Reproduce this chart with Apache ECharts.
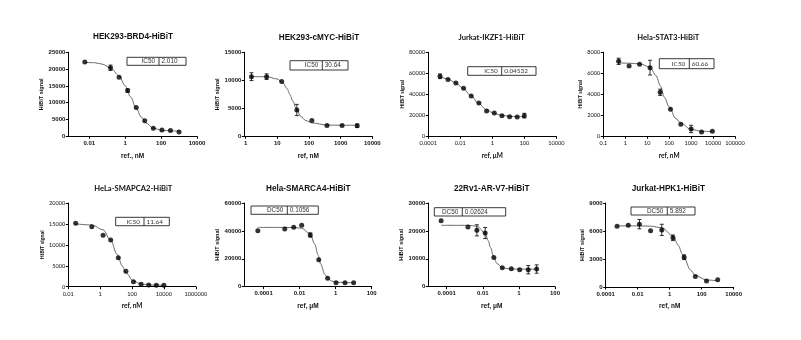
<!DOCTYPE html>
<html><head><meta charset="utf-8">
<script src="https://cdn.jsdelivr.net/npm/echarts@6/dist/echarts.min.js"></script>
<style>html,body{margin:0;padding:0;background:#fff}#c{width:801px;height:340px}</style>
</head><body><div id="c"></div>
<script>
// ---------- DATA ----------
const p1Title = 'HEK293-BRD4-HiBiT', p1XName = 'ref., nM', p1Metric = 'IC50', p1Value = '2.010';
const p1Conc = [0.0056, 0.152, 0.457, 1.37, 4.12, 12.3, 37, 111, 333, 1000];
const p1Signal = [22100, 20400, 17550, 13600, 8550, 4650, 2400, 1900, 1700, 1300];
const p1Err = [0, 800, 0, 500, 0, 0, 0, 0, 0, 0];
const p1CurveConc = [0.0056, 0.02, 0.05, 0.15, 0.45, 1, 2, 4, 8, 15, 37, 111, 333, 1000];
const p1CurveSignal = [22000, 21900, 21500, 20400, 18000, 15000, 11750, 8400, 5700, 3900, 2400, 1800, 1600, 1550];
const p1XTicks = [0.01, 1, 100, 10000], p1XLabels = ['0.01', '1', '100', '10000'];
const p1YTicks = [0, 5000, 10000, 15000, 20000, 25000];

const p2Title = 'HEK293-cMYC-HiBiT', p2XName = 'ref, nM', p2Metric = 'IC50', p2Value = '30.64';
const p2Conc = [1.52, 4.57, 13.7, 41.2, 123, 370, 1111, 3333];
const p2Signal = [10650, 10650, 9800, 4700, 2800, 1950, 1950, 1900];
const p2Err = [700, 500, 0, 1000, 0, 0, 0, 300];
const p2CurveConc = [1.52, 4.57, 10, 15, 20, 25, 30.6, 40, 55, 80, 123, 370, 1111, 3333];
const p2CurveSignal = [10650, 10640, 10230, 9520, 8550, 7460, 6310, 4880, 3550, 2800, 2400, 2000, 1975, 1970];
const p2XTicks = [1, 10, 100, 1000, 10000], p2XLabels = ['1', '10', '100', '1000', '10000'];
const p2YTicks = [0, 5000, 10000, 15000];

const p3Title = 'Jurkat-IKZF1-HiBiT', p3XName = 'ref, μM', p3Metric = 'IC50', p3Value = '0.04532';
const p3Conc = [0.00054, 0.0017, 0.0053, 0.016, 0.048, 0.145, 0.44, 1.33, 4, 12, 36, 100];
const p3Signal = [57150, 53980, 50800, 45720, 38420, 31750, 24130, 22230, 19690, 18730, 18420, 19690];
const p3Err = [2200, 0, 0, 0, 0, 0, 0, 0, 0, 0, 0, 2200];
const p3CurveConc = [0.00054, 0.0017, 0.005, 0.015, 0.045, 0.14, 0.44, 1.33, 4, 12, 36, 100];
const p3CurveSignal = [57000, 54500, 51000, 45700, 38750, 31200, 25200, 21700, 19900, 19100, 18750, 18600];
const p3XTicks = [0.0001, 0.01, 1, 100, 10000], p3XLabels = ['0.0001', '0.01', '1', '100', '10000'];
const p3YTicks = [0, 20000, 40000, 60000, 80000];

const p4Title = 'Hela-STAT3-HiBiT', p4XName = 'ref, nM', p4Metric = 'IC50', p4Value = '60.66';
const p4Conc = [0.5, 1.5, 4.5, 13.5, 39, 115, 340, 1000, 3000, 9300];
const p4Signal = [7140, 6700, 6860, 6540, 4190, 2570, 1140, 700, 410, 480];
const p4Err = [300, 0, 0, 700, 300, 0, 0, 350, 0, 0];
const p4CurveConc = [0.5, 1.5, 4.5, 13.5, 25, 40, 60.66, 100, 200, 340, 1000, 3000, 9300];
const p4CurveSignal = [6990, 6960, 6900, 6600, 5800, 4800, 3715, 2800, 1700, 1250, 650, 480, 440];
const p4XTicks = [0.1, 1, 10, 100, 1000, 10000, 100000], p4XLabels = ['0.1', '1', '10', '100', '1000', '10000', '100000'];
const p4YTicks = [0, 2000, 4000, 6000, 8000];

const p5Title = 'HeLa-SMAPCA2-HiBiT', p5XName = 'ref, nM', p5Metric = 'IC50', p5Value = '11.64';
const p5Conc = [0.029, 0.3, 1.52, 4.57, 13.7, 41.2, 123, 370, 1111, 3333, 10000];
const p5Signal = [15140, 14350, 12270, 11160, 6930, 3670, 1200, 560, 400, 320, 320];
const p5Err = [0, 0, 0, 0, 0, 0, 0, 0, 0, 0, 0];
const p5CurveConc = [0.029, 0.3, 1.52, 4.57, 11.64, 25, 41.2, 123, 370, 1111, 3333, 10000];
const p5CurveSignal = [15000, 14750, 13600, 11100, 7675, 4900, 3300, 1350, 650, 450, 380, 360];
const p5XTicks = [0.01, 1, 100, 10000, 1000000], p5XLabels = ['0.01', '1', '100', '10000', '1000000'];
const p5YTicks = [0, 5000, 10000, 15000, 20000];

const p6Title = 'Hela-SMARCA4-HiBiT', p6XName = 'ref, μM', p6Metric = 'DC50', p6Value = '0.1056';
const p6Conc = [0.000048, 0.0015, 0.0047, 0.013, 0.039, 0.115, 0.36, 1.05, 3.3, 10];
const p6Signal = [40150, 41350, 42540, 43980, 37050, 19360, 5980, 2870, 2870, 2870];
const p6Err = [0, 0, 0, 0, 1500, 0, 0, 0, 0, 0];
const p6CurveConc = [0.000048, 0.0015, 0.0047, 0.013, 0.039, 0.07, 0.1056, 0.15, 0.25, 0.36, 0.6, 1.05, 3.3, 10];
const p6CurveSignal = [42500, 42490, 42420, 41900, 37740, 30420, 22690, 15990, 8880, 6000, 4060, 3270, 2910, 2875];
const p6XTicks = [0.0001, 0.01, 1, 100], p6XLabels = ['0.0001', '0.01', '1', '100'];
const p6YTicks = [0, 20000, 40000, 60000];

const p7Title = '22Rv1-AR-V7-HiBiT', p7XName = 'ref, μM', p7Metric = 'DC50', p7Value = '0.02624';
const p7Conc = [0.000049, 0.0015, 0.0047, 0.0135, 0.041, 0.12, 0.38, 1.1, 3.3, 9.6];
const p7Signal = [23660, 21390, 20200, 19240, 10500, 6800, 6450, 6100, 6100, 6330];
const p7Err = [0, 0, 2000, 2000, 0, 0, 0, 0, 1500, 1500];
const p7CurveConc = [0.000049, 0.0015, 0.0047, 0.0135, 0.02, 0.02624, 0.041, 0.06, 0.12, 0.38, 1.1, 9.6];
const p7CurveSignal = [22000, 22000, 21700, 19240, 16520, 14150, 10500, 8340, 6760, 6320, 6300, 6300];
const p7XTicks = [0.0001, 0.01, 1, 100], p7XLabels = ['0.0001', '0.01', '1', '100'];
const p7YTicks = [0, 10000, 20000, 30000];

const p8Title = 'Jurkat-HPK1-HiBiT', p8XName = 'ref, nM', p8Metric = 'DC50', p8Value = '5.892';
const p8Conc = [0.000512, 0.00256, 0.0128, 0.064, 0.32, 1.6, 8, 40, 200, 1000];
const p8Signal = [6510, 6620, 6730, 6020, 6120, 5270, 3190, 1130, 640, 780];
const p8Err = [0, 0, 500, 0, 600, 300, 250, 0, 0, 0];
const p8CurveConc = [0.000512, 0.0128, 0.064, 0.32, 1.6, 3.5, 5.892, 8, 20, 40, 200, 1000];
const p8CurveSignal = [6550, 6545, 6518, 6350, 5470, 4460, 3600, 3090, 1814, 1236, 750, 666];
const p8XTicks = [0.0001, 0.01, 1, 100, 10000], p8XLabels = ['0.0001', '0.01', '1', '100', '10000'];
const p8YTicks = [0, 3000, 6000, 9000];

const yName = 'HiBiT signal';

// ---------- LAYOUT / STYLE ----------
const ARIAL = 'Liberation Sans', LATO = 'Lato';
const layout = [
  {left: 68.3, top: 52.3, width: 128.7, height: 84, xmin: -3.17, xmax: 4, tx: 133, ty: 37, box: [127, 57.3, 186, 65.3, 159], yGap: 21, font: ARIAL, bold: true},
  {left: 244.3, top: 52.3, width: 128, height: 84, xmin: -0.045, xmax: 4, tx: 319, ty: 37.3, box: [290, 60.7, 348, 70, 322.3], yGap: 21, font: ARIAL, bold: true},
  {left: 428.3, top: 52.3, width: 128, height: 84, xmin: -4, xmax: 4, tx: 491.7, ty: 37.3, box: [467.7, 66.7, 536, 75.3, 501.7], yGap: 21, font: LATO, bold: false},
  {left: 603.3, top: 52.3, width: 131.7, height: 84, xmin: -1, xmax: 5, tx: 668.3, ty: 37.3, box: [659.3, 58.7, 714, 68.7, 689.3], yGap: 19, font: LATO, bold: false},
  {left: 68.3, top: 203, width: 127.5, height: 83.7, xmin: -2, xmax: 6, tx: 133.3, ty: 189, box: [115.7, 217.3, 169.3, 225.7, 144], yGap: 21, font: LATO, bold: false},
  {left: 244.3, top: 203, width: 127.4, height: 83.7, xmin: -5.07, xmax: 2, tx: 308.3, ty: 189, box: [251, 206, 318.3, 214.3, 287.3], yGap: 23, font: ARIAL, bold: true},
  {left: 428.3, top: 203, width: 126.7, height: 83.7, xmin: -5.02, xmax: 2, tx: 491.7, ty: 189, box: [434.3, 207.7, 505.7, 216, 462.3], yGap: 22, font: ARIAL, bold: true},
  {left: 605.7, top: 203, width: 128, height: 84, xmin: -4, xmax: 4, tx: 668.3, ty: 189, box: [631, 207, 695, 215, 667.3], yGap: 19, font: ARIAL, bold: true}
];

const panels = [
  {title: p1Title, xname: p1XName, metric: p1Metric, value: p1Value, conc: p1Conc, sig: p1Signal, err: p1Err, cc: p1CurveConc, cs: p1CurveSignal, xt: p1XTicks, xl: p1XLabels, yt: p1YTicks},
  {title: p2Title, xname: p2XName, metric: p2Metric, value: p2Value, conc: p2Conc, sig: p2Signal, err: p2Err, cc: p2CurveConc, cs: p2CurveSignal, xt: p2XTicks, xl: p2XLabels, yt: p2YTicks},
  {title: p3Title, xname: p3XName, metric: p3Metric, value: p3Value, conc: p3Conc, sig: p3Signal, err: p3Err, cc: p3CurveConc, cs: p3CurveSignal, xt: p3XTicks, xl: p3XLabels, yt: p3YTicks},
  {title: p4Title, xname: p4XName, metric: p4Metric, value: p4Value, conc: p4Conc, sig: p4Signal, err: p4Err, cc: p4CurveConc, cs: p4CurveSignal, xt: p4XTicks, xl: p4XLabels, yt: p4YTicks},
  {title: p5Title, xname: p5XName, metric: p5Metric, value: p5Value, conc: p5Conc, sig: p5Signal, err: p5Err, cc: p5CurveConc, cs: p5CurveSignal, xt: p5XTicks, xl: p5XLabels, yt: p5YTicks},
  {title: p6Title, xname: p6XName, metric: p6Metric, value: p6Value, conc: p6Conc, sig: p6Signal, err: p6Err, cc: p6CurveConc, cs: p6CurveSignal, xt: p6XTicks, xl: p6XLabels, yt: p6YTicks},
  {title: p7Title, xname: p7XName, metric: p7Metric, value: p7Value, conc: p7Conc, sig: p7Signal, err: p7Err, cc: p7CurveConc, cs: p7CurveSignal, xt: p7XTicks, xl: p7XLabels, yt: p7YTicks},
  {title: p8Title, xname: p8XName, metric: p8Metric, value: p8Value, conc: p8Conc, sig: p8Signal, err: p8Err, cc: p8CurveConc, cs: p8CurveSignal, xt: p8XTicks, xl: p8XLabels, yt: p8YTicks}
];

// ---------- BUILD ----------
const grids = [], xAxes = [], yAxes = [], series = [], graphics = [];
const lg = Math.log10;

panels.forEach((p, i) => {
  const L = layout[i];
  const fw = L.bold ? 'bold' : 'normal';
  const tickFs = L.font === LATO ? 5.6 : 6;
  grids.push({left: L.left, top: L.top, width: L.width, height: L.height});
  const xTickExp = p.xt.map(lg);
  xAxes.push({
    type: 'value', gridIndex: i, min: L.xmin, max: L.xmax,
    name: p.xname, nameLocation: 'middle', nameGap: 16,
    nameTextStyle: {fontFamily: L.font, fontSize: L.font === LATO ? 6.5 : 6.5, fontWeight: 'bold', color: '#111'},
    axisLine: {show: true, onZero: false, lineStyle: {color: '#000', width: 1}},
    axisTick: {show: true, length: 2.5, customValues: xTickExp, lineStyle: {color: '#000', width: 1}},
    axisLabel: {
      customValues: xTickExp, margin: 4, fontFamily: L.font, fontSize: tickFs, fontWeight: fw, color: '#111',
      formatter: v => { let k = 0, d = 1e9; xTickExp.forEach((e, j) => { if (Math.abs(e - v) < d) { d = Math.abs(e - v); k = j; } }); return p.xl[k]; }
    },
    splitLine: {show: false}
  });
  const yMax = p.yt[p.yt.length - 1];
  yAxes.push({
    type: 'value', gridIndex: i, min: 0, max: yMax, interval: p.yt[1] - p.yt[0],
    name: yName, nameLocation: 'middle', nameGap: L.yGap,
    nameTextStyle: {fontFamily: L.font, fontSize: 5.5, fontWeight: 'bold', color: '#111'},
    axisLine: {show: true, onZero: false, lineStyle: {color: '#000', width: 1}},
    axisTick: {show: true, length: 2.5, lineStyle: {color: '#000', width: 1}},
    axisLabel: {margin: 3, fontFamily: L.font, fontSize: tickFs, fontWeight: fw, color: '#111', formatter: v => String(v)},
    splitLine: {show: false}
  });
  series.push({
    type: 'line', xAxisIndex: i, yAxisIndex: i, showSymbol: false, symbol: 'none',
    smooth: 0.35, smoothMonotone: 'x', silent: true, z: 2,
    lineStyle: {color: '#6a6a6a', width: 1},
    data: p.cc.map((c, j) => [lg(c), p.cs[j]])
  });
  series.push({
    type: 'custom', xAxisIndex: i, yAxisIndex: i, silent: true, z: 3,
    encode: {x: 0, y: [1, 2]},
    data: p.conc.map((c, j) => [lg(c), p.sig[j] - p.err[j], p.sig[j] + p.err[j]]).filter(d => d[2] > d[1]),
    renderItem: (params, api) => {
      const x = api.value(0);
      const lo = api.coord([x, api.value(1)]);
      const hi = api.coord([x, api.value(2)]);
      const w = 2;
      const st = {stroke: '#000', lineWidth: 0.8};
      return {type: 'group', children: [
        {type: 'line', shape: {x1: lo[0], y1: lo[1], x2: hi[0], y2: hi[1]}, style: st},
        {type: 'line', shape: {x1: lo[0] - w, y1: lo[1], x2: lo[0] + w, y2: lo[1]}, style: st},
        {type: 'line', shape: {x1: hi[0] - w, y1: hi[1], x2: hi[0] + w, y2: hi[1]}, style: st}
      ]};
    }
  });
  series.push({
    type: 'scatter', xAxisIndex: i, yAxisIndex: i, symbol: 'circle', symbolSize: 5, silent: true, z: 4,
    itemStyle: {color: '#000'},
    data: p.conc.map((c, j) => [lg(c), p.sig[j]])
  });
  // title
  graphics.push({type: 'text', x: L.tx, y: L.ty, silent: true,
    style: {text: p.title, fill: '#111', font: 'bold ' + (L.font === LATO ? 7.6 : 8.2) + 'px "' + L.font + '"', textAlign: 'center', textVerticalAlign: 'middle'}});
  // metric box
  const b = L.box;
  const bf = 'normal 6.4px "' + L.font + '"';
  graphics.push({type: 'rect', silent: true, shape: {x: b[0], y: b[1], width: b[2] - b[0], height: b[3] - b[1]},
    style: {fill: '#fff', stroke: '#222', lineWidth: 0.9}, z: 10});
  graphics.push({type: 'line', silent: true, shape: {x1: b[4], y1: b[1], x2: b[4], y2: b[3]},
    style: {stroke: '#222', lineWidth: 0.9}, z: 10});
  graphics.push({type: 'text', silent: true, x: b[4] - 4, y: (b[1] + b[3]) / 2, z: 11,
    style: {text: p.metric, fill: '#333', font: bf, textAlign: 'right', textVerticalAlign: 'middle'}});
  graphics.push({type: 'text', silent: true, x: b[4] + 2.5, y: (b[1] + b[3]) / 2, z: 11,
    style: {text: p.value, fill: '#333', font: bf, textAlign: 'left', textVerticalAlign: 'middle'}});
});

const chart = echarts.init(document.getElementById('c'), null, {renderer: 'canvas'});
chart.setOption({
  animation: false,
  backgroundColor: '#fff',
  grid: grids, xAxis: xAxes, yAxis: yAxes, series: series,
  graphic: graphics
});
</script>
</body></html>
